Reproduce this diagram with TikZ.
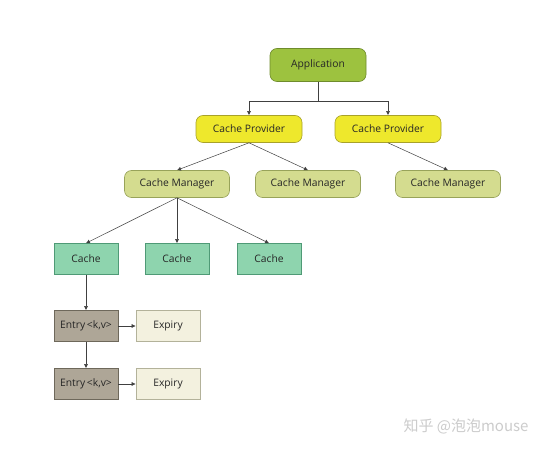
\documentclass[tikz,border=0pt]{standalone}
\usepackage{fontspec}
\setmainfont{Open Sans}
\newfontfamily\cjk{Noto Sans CJK SC}
\usetikzlibrary{arrows.meta}
\definecolor{appF}{HTML}{9DC23F}\definecolor{appD}{HTML}{6F8C2C}
\definecolor{provF}{HTML}{EEE82C}\definecolor{provD}{HTML}{A8A22A}
\definecolor{mgrF}{HTML}{D4DC8F}\definecolor{mgrD}{HTML}{98A35A}
\definecolor{cacheF}{HTML}{8ED4AE}\definecolor{cacheD}{HTML}{4F9A76}
\definecolor{entF}{HTML}{AEA697}\definecolor{entD}{HTML}{6E685B}
\definecolor{expF}{HTML}{F3F1DF}\definecolor{expD}{HTML}{B3B29A}
\definecolor{txt}{HTML}{262626}
\begin{document}
\begin{tikzpicture}[x=1pt,y=-1pt,
  base/.style={draw,line width=0.6pt,font=\fontsize{10.3}{11}\selectfont,text=txt,inner sep=0pt},
  rbox/.style={base,rounded corners=7pt,minimum height=27pt},
  appbox/.style={rbox,fill=appF,draw=appD,minimum width=96pt,minimum height=33pt},
  provbox/.style={rbox,fill=provF,draw=provD,minimum width=106pt},
  mgrbox/.style={rbox,fill=mgrF,draw=mgrD,minimum width=105pt},
  cachebox/.style={base,fill=cacheF,draw=cacheD,minimum width=64pt,minimum height=31pt},
  entbox/.style={base,fill=entF,draw=entD,minimum width=64pt,minimum height=31pt},
  expbox/.style={base,fill=expF,draw=expD,minimum width=64pt,minimum height=31pt},
  conn/.style={draw=black!75,line width=0.5pt,-{Latex[length=4pt,width=4pt]}}
]
\path[use as bounding box] (0,0) rectangle (550,449);
\fill[white] (0,0) rectangle (550,449);
\node[appbox] (app) at (318,65) {Application};
\node[provbox] (p1) at (249,129) {Cache Provider};
\node[provbox] (p2) at (388,129) {Cache Provider};
\node[mgrbox] (m1) at (177,184) {Cache Manager};
\node[mgrbox] (m2) at (308,184) {Cache Manager};
\node[mgrbox] (m3) at (448,184) {Cache Manager};
\node[cachebox] (c1) at (86,259) {Cache};
\node[cachebox] (c2) at (177,259) {Cache};
\node[cachebox] (c3) at (269,259) {Cache};
\node[entbox] (e1) at (86,326) {Entry\,<k,v>};
\node[expbox] (x1) at (168,326) {Expiry};
\node[entbox] (e2) at (86,384) {Entry\,<k,v>};
\node[expbox] (x2) at (168,384) {Expiry};
\coordinate (j) at (318,101);
\draw[draw=black!75,line width=0.5pt] (app.south) -- (j);
\draw[conn] (j) -| (p1.north);
\draw[conn] (j) -| (p2.north);
\draw[conn] (p1.south) -- (m1.north);
\draw[conn] (p1.south) -- (m2.north);
\draw[conn] (p2.south) -- (m3.north);
\draw[conn] (m1.south) -- (c1.north);
\draw[conn] (m1.south) -- (c2.north);
\draw[conn] (m1.south) -- (c3.north);
\draw[conn] (c1.south) -- (e1.north);
\draw[conn] (e1.south) -- (e2.north);
\draw[conn] (e1.east) -- (x1.west);
\draw[conn] (e2.east) -- (x2.west);
\node[text=black!20,font=\cjk\fontsize{15}{16}\selectfont,anchor=center] (wm) at (466,426) {知乎 @泡泡mouse};
\end{tikzpicture}
\end{document}
